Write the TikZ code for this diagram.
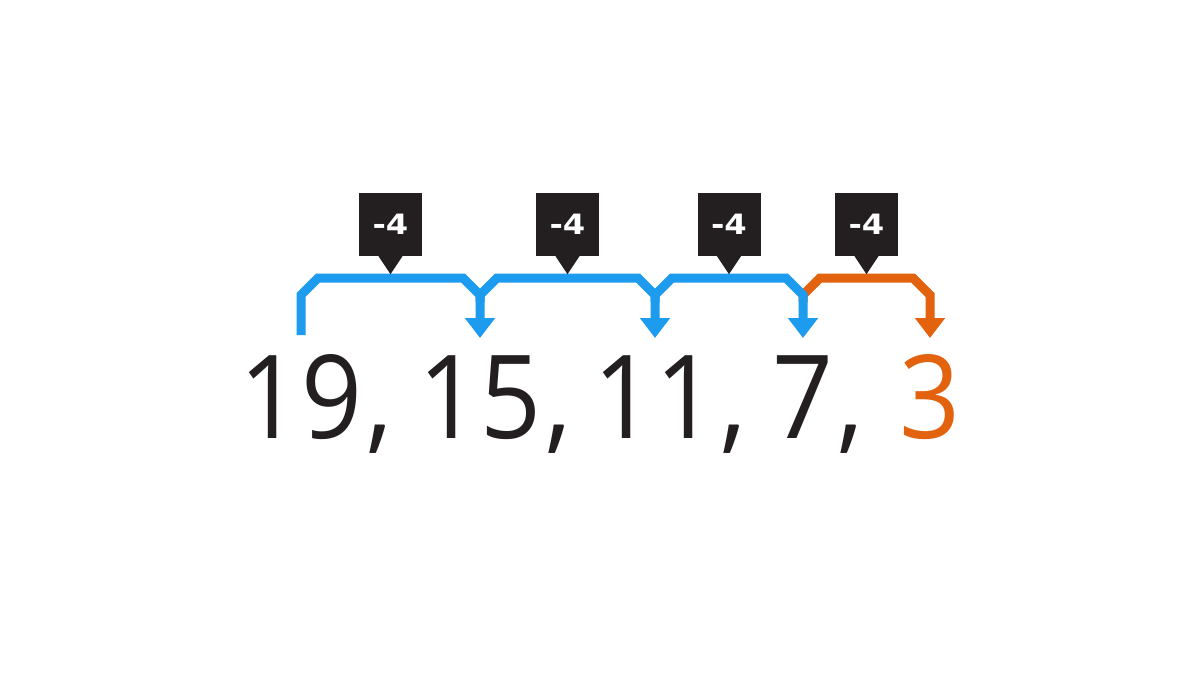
\documentclass[tikz,border=0pt]{standalone}
\usepackage{fontspec}
\setmainfont{Open Sans}
\newfontfamily\numfont[FakeStretch=0.92]{Open Sans}
\newfontfamily\boxfont[FakeStretch=1.15]{DejaVu Sans}
\usetikzlibrary{arrows.meta,calc}
\definecolor{seqblue}{HTML}{1C9BEF}
\definecolor{seqorange}{HTML}{E2620E}
\definecolor{boxblack}{HTML}{231F20}
\newcommand{\trailcomma}{\rlap{\kern4pt\textcolor{boxblack}{,}}}
\begin{document}
\begin{tikzpicture}[x=1pt,y=-1pt,
  num/.style={font=\numfont\fontsize{116}{116}\selectfont, text=boxblack, inner sep=0pt, anchor=base},
  jump/.style={line width=9pt, miter limit=10, -{Triangle[width=29pt,length=20pt]}},
  tag/.style={fill=boxblack, text=white, font=\boxfont\bfseries\fontsize{28}{28}\selectfont, minimum width=63pt, minimum height=63pt, inner sep=0pt},
]
\useasboundingbox[fill=white] (0,0) rectangle (1200,675);
% rows
\coordinate (startrow) at (0,335);
\coordinate (joinrow) at (0,302);
\coordinate (midrow) at (0,295);
\coordinate (toprow) at (0,278);
\coordinate (tiprow) at (0,338);
\coordinate (boxrow) at (0,224.5);
% numbers (each with its trailing comma)
\node[num] (n1) at (301,438) {19\trailcomma};
\node[num] (n2) at (480,438) {15\trailcomma};
\node[num] (n3) at (655,438) {11\trailcomma};
\node[num] (n4) at (803,438) {7\trailcomma};
\node[num, text=seqorange] (n5) at (930,438) {3};
% connectors (orange first, blue on top at the junction)
\draw[jump, seqorange] (n4 |- joinrow) -- (n4 |- midrow) -- ($(n4 |- toprow)+(17,0)$) -- ($(n5 |- toprow)+(-17,0)$) -- (n5 |- midrow) -- (n5 |- tiprow);
\draw[jump, seqblue] (n1 |- startrow) -- (n1 |- midrow) -- ($(n1 |- toprow)+(17,0)$) -- ($(n2 |- toprow)+(-17,0)$) -- (n2 |- midrow) -- (n2 |- tiprow);
\draw[jump, seqblue] (n2 |- joinrow) -- (n2 |- midrow) -- ($(n2 |- toprow)+(17,0)$) -- ($(n3 |- toprow)+(-17,0)$) -- (n3 |- midrow) -- (n3 |- tiprow);
\draw[jump, seqblue] (n3 |- joinrow) -- (n3 |- midrow) -- ($(n3 |- toprow)+(17,0)$) -- ($(n4 |- toprow)+(-17,0)$) -- (n4 |- midrow) -- (n4 |- tiprow);
% tags
\foreach \i/\j in {1/2,2/3,3/4,4/5}{
  \node[tag] (b\i) at ($(n\i |- boxrow)!0.5!(n\j |- boxrow)$) {-4};
  \fill[boxblack] ($(b\i.south)+(-12,0)$) -- ($(b\i.south)+(12,0)$) -- ($(b\i.south)+(0,18)$) -- cycle;
}
\end{tikzpicture}
\end{document}
